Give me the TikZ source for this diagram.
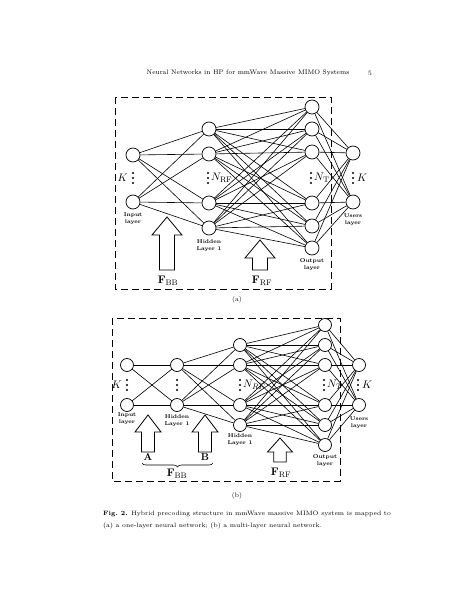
\documentclass[tikz,border=0pt]{standalone}
\usepackage{amsmath,amssymb}
\usepackage{tikz}
\usetikzlibrary{arrows.meta,positioning,decorations.pathreplacing}

% hollow block arrow: x, tip y, head base y, bottom y, half head width
\newcommand{\fatarrow}[5]{%
  \draw[fat] (#1,#2) -- (#1+#5,#3) -- (#1+#5/2,#3) -- (#1+#5/2,#4)
    -- (#1-#5/2,#4) -- (#1-#5/2,#3) -- (#1-#5,#3) -- cycle;}
% three stacked dots round a named coordinate
\newcommand{\dotcol}[1]{%
  \foreach \d in {-5,0,5} \fill[shift={(#1)}] (0,\d) circle (1.1pt);}

\begin{document}
\begin{tikzpicture}[
  x=1pt, y=-1pt,
  neuron/.style={draw, circle, minimum size=14pt, inner sep=0pt, line width=0.7pt, fill=white},
  sneuron/.style={neuron, minimum size=13pt},
  link/.style={line width=0.6pt},
  frame/.style={dash pattern=on 7pt off 4pt, line width=0.9pt},
  fat/.style={line width=0.8pt, fill=white},
  lbl/.style={font=\fontsize{5.5}{7}\selectfont\bfseries, align=center},
  big/.style={font=\fontsize{11}{12}\selectfont, inner sep=1pt},
  mat/.style={font=\fontsize{11}{12}\selectfont, inner sep=1pt},
  txt/.style={font=\fontsize{6.6}{9}\selectfont}
]
\useasboundingbox (0,0) rectangle (474,613);
% ---- page header ----
\node[txt] (head) at (248,73) {Neural Networks in HP for mmWave Massive MIMO Systems};
\node[txt] (page) at (370,73) {5};

% ---- (a): one-layer network ----
\draw[frame] (115,97) rectangle (331,289);
\node[neuron] (ai1) at (133,155) {};
\node[neuron] (ai2) at (133,202) {};
\node[neuron] (ah1) at (209,129) {};
\node[neuron] (ah2) at (209,154) {};
\node[neuron] (ah3) at (209,203) {};
\node[neuron] (ah4) at (209,228) {};
\node[neuron] (ao1) at (312,107) {};
\node[neuron] (ao2) at (312,129) {};
\node[neuron] (ao3) at (312,152) {};
\node[neuron] (ao4) at (312,203) {};
\node[neuron] (ao5) at (312,226) {};
\node[neuron] (ao6) at (312,248) {};
\node[neuron] (au1) at (353,153) {};
\node[neuron] (au2) at (353,202) {};
\foreach \i in {1,2}
  \foreach \j in {1,...,4}
    \draw[link] (ai\i) -- (ah\j);
\foreach \i in {1,...,4}
  \foreach \j in {1,...,6}
    \draw[link] (ah\i) -- (ao\j);
\foreach \i in {1,...,6}
  \foreach \j in {1,2}
    \draw[link] (ao\i) -- (au\j);
% dots and sizes
\coordinate (adi) at (133,178);
\coordinate (adh) at (208,178);
\coordinate (ado) at (311,178);
\coordinate (adu) at (353,178);
\dotcol{adi}\dotcol{adh}\dotcol{ado}\dotcol{adu}
\node[mat, left=4pt of adi] (ak1) {$K$};
\node[mat, right=2pt of adh] (anrf) {$N_{\mathrm{RF}}$};
\node[mat, right=2pt of ado] (ant) {$N_{\mathrm{T}}$};
\node[mat, right=3pt of adu] (ak2) {$K$};
% layer names
\node[lbl] (ainl) at (133,219) {Input\\layer};
\node[lbl] (ahl) at (209,246) {Hidden\\Layer 1};
\node[lbl] (aol) at (312,265) {Output\\layer};
\node[lbl] (aul) at (353,220) {Users\\layer};
% matrices
\fatarrow{167}{217}{235}{270}{15}
\fatarrow{260}{240}{258}{270}{15}
\node[big] (afbb) at (168,281) {$\mathbf{F}_{\mathrm{BB}}$};
\node[big] (afrf) at (262,281) {$\mathbf{F}_{\mathrm{RF}}$};
\node[txt] (capa) at (237,300) {(a)};

% ---- (b): multi-layer network ----
\draw[frame] (112,318) rectangle (340,481);
\node[sneuron] (bi1) at (127,365) {};
\node[sneuron] (bi2) at (127,405) {};
\node[sneuron] (bh1) at (177,365) {};
\node[sneuron] (bh2) at (177,405) {};
\node[sneuron] (bg1) at (240,345) {};
\node[sneuron] (bg2) at (240,365) {};
\node[sneuron] (bg3) at (240,405) {};
\node[sneuron] (bg4) at (240,425) {};
\node[sneuron] (bo1) at (325,325) {};
\node[sneuron] (bo2) at (325,345) {};
\node[sneuron] (bo3) at (325,365) {};
\node[sneuron] (bo4) at (325,405) {};
\node[sneuron] (bo5) at (325,425) {};
\node[sneuron] (bo6) at (325,445) {};
\node[sneuron] (bu1) at (359,365) {};
\node[sneuron] (bu2) at (359,405) {};
\foreach \i in {1,2}
  \foreach \j in {1,2}
    \draw[link] (bi\i) -- (bh\j);
\foreach \i in {1,2}
  \foreach \j in {1,...,4}
    \draw[link] (bh\i) -- (bg\j);
\foreach \i in {1,...,4}
  \foreach \j in {1,...,6}
    \draw[link] (bg\i) -- (bo\j);
\foreach \i in {1,...,6}
  \foreach \j in {1,2}
    \draw[link] (bo\i) -- (bu\j);
% dots and sizes
\coordinate (bdi) at (127,385);
\coordinate (bdh) at (177,385);
\coordinate (bdg) at (240,385);
\coordinate (bdo) at (324,385);
\coordinate (bdu) at (358,385);
\dotcol{bdi}\dotcol{bdh}\dotcol{bdg}\dotcol{bdo}\dotcol{bdu}
\node[mat, left=4pt of bdi] (bk1) {$K$};
\node[mat, right=2pt of bdg] (bnrf) {$N_{RF}$};
\node[mat, right=2pt of bdo] (bnt) {$N_{T}$};
\node[mat, right=3pt of bdu] (bk2) {$K$};
% layer names
\node[lbl] (binl) at (127,419) {Input\\layer};
\node[lbl] (bhl) at (177,421) {Hidden\\Layer 1};
\node[lbl] (bgl) at (240,440) {Hidden\\Layer 1};
\node[lbl] (bol) at (325,461) {Output\\layer};
\node[lbl] (bul) at (359,423) {Users\\layer};
% matrices
\fatarrow{148}{415}{432}{452}{13}
\fatarrow{205}{415}{432}{452}{13}
\fatarrow{280}{438}{452}{462}{12.5}
\node[big, font=\fontsize{10}{11}\selectfont\bfseries] (ba) at (148,457) {A};
\node[big, font=\fontsize{10}{11}\selectfont\bfseries] (bb) at (205,457) {B};
\coordinate (brl) at (142,463);
\coordinate (brr) at (213,463);
\draw[decorate, decoration={brace, mirror, amplitude=4pt}, line width=0.6pt] (brl) -- (brr);
\node[big] (bfbb) at (177,474) {$\mathbf{F}_{\mathrm{BB}}$};
\node[big] (bfrf) at (281,473) {$\mathbf{F}_{\mathrm{RF}}$};
\node[txt] (capb) at (237,496) {(b)};

% ---- caption ----
\node[txt, anchor=north west, align=left, inner sep=0pt, font=\fontsize{6.3}{12}\selectfont] (cap) at (103,511)
  {\textbf{Fig.\ 2.} Hybrid precoding structure in mmWave massive MIMO system is mapped to\\
   (a) a one-layer neural network; (b) a multi-layer neural network.};
\end{tikzpicture}
\end{document}
